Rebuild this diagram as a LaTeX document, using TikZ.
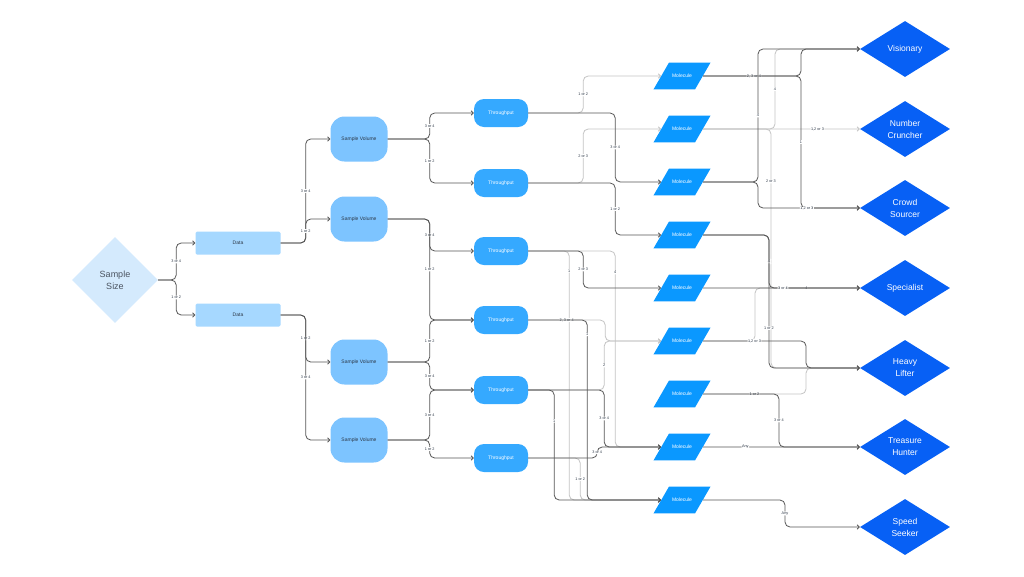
\documentclass[tikz,border=0pt]{standalone}
\usepackage{fontspec}
\setmainfont{Liberation Sans}
\usetikzlibrary{positioning}
\usetikzlibrary{arrows.meta}
\usetikzlibrary{shapes.geometric}

\definecolor{sizefill}{HTML}{D4EAFD}
\definecolor{datafill}{HTML}{A6D8FF}
\definecolor{volfill}{HTML}{7DC4FF}
\definecolor{thrfill}{HTML}{35A9FF}
\definecolor{molfill}{HTML}{0A98FF}
\definecolor{typefill}{HTML}{0760F5}
\definecolor{inktext}{HTML}{2B3645}
\definecolor{linedark}{HTML}{575757}
\definecolor{linelight}{HTML}{C4C4C4}

\begin{document}
\begin{tikzpicture}[x=1pt,y=-1pt,
  >={Straight Barb[length=2.2pt,width=4.5pt]},
  dk/.style={draw=linedark,line width=0.8pt,rounded corners=5pt,->},
  lt/.style={draw=linelight,line width=0.8pt,rounded corners=5pt,->},
  lbl/.style={fill=white,inner sep=0.5pt,text=inktext,font=\fontsize{3.8}{4}\selectfont},
  sizebox/.style={diamond,aspect=1,fill=sizefill,minimum width=86pt,minimum height=86pt,inner sep=0pt,
    text=inktext!85,align=center,font=\fontsize{9}{12}\selectfont},
  databox/.style={rectangle,rounded corners=1.5pt,fill=datafill,minimum width=85pt,minimum height=23pt,
    text=inktext,font=\fontsize{5}{6}\selectfont},
  volbox/.style={rectangle,rounded corners=14pt,fill=volfill,minimum width=57pt,minimum height=45pt,
    text=inktext,font=\fontsize{5}{6}\selectfont},
  thrbox/.style={rectangle,rounded corners=10pt,fill=thrfill,minimum width=54pt,minimum height=28pt,
    text=white,font=\fontsize{5}{6}\selectfont},
  molbox/.style={trapezium,trapezium left angle=60,trapezium right angle=120,
    fill=molfill,inner xsep=3pt,inner ysep=11.6pt,text=white,font=\fontsize{5}{6}\selectfont},
  typebox/.style={diamond,aspect=1.6,fill=typefill,minimum width=90pt,minimum height=56pt,inner sep=0pt,
    text=white,align=center,font=\fontsize{8.5}{12}\selectfont}
]
\fill[white] (0,0) rectangle (1024,576);
\useasboundingbox (0,0) rectangle (1024,576);

% left half
\node[sizebox] (size) at (115,280) {Sample\\Size};
\node[databox] (data1) at (238,243) {Data};
\node[databox] (data2) at (238,315) {Data};
\node[volbox] (vol1) at (359,139) {Sample Volume};
\node[volbox] (vol2) at (359,219) {Sample Volume};
\node[volbox] (vol3) at (359,362) {Sample Volume};
\node[volbox] (vol4) at (359,440) {Sample Volume};
\foreach \i/\y in {1/113,2/183,3/251,4/320,5/390,6/458}
  \node[thrbox] (thr\i) at (501,\y) {Throughput};

% right half
\foreach \i/\y in {1/76,2/129,3/182,4/235,5/288,6/341,7/394,8/447,9/500}
  \node[molbox] (mol\i) at (682,\y) {Molecule};
\node[typebox] (vis) at (905,49) {Visionary};
\node[typebox] (num) at (905,129) {Number\\Cruncher};
\node[typebox] (crowd) at (905,208) {Crowd\\Sourcer};
\node[typebox] (spec) at (905,288) {Specialist};
\node[typebox] (heavy) at (905,368) {Heavy\\Lifter};
\node[typebox] (hunt) at (905,447) {Treasure\\Hunter};
\node[typebox] (speed) at (905,527) {Speed\\Seeker};

\draw[dk] (size.east) -- ++(18,0) |- (data1.west) node[lbl,pos=.25] (a1) {3 or 4};
\draw[dk] (size.east) -- ++(18,0) |- (data2.west) node[lbl,pos=.25] (a2) {1 or 2};

\draw[dk] (data1.east) -- ++(25,0) |- (vol1.west) node[lbl,pos=.25] (b1) {3 or 4};
\draw[dk] (data1.east) -- ++(25,0) |- (vol2.west) node[lbl,pos=.25] (b2) {1 or 2};
\draw[dk] (data2.east) -- ++(25,0) |- (vol3.west) node[lbl,pos=.25] (b3) {1 or 2};
\draw[dk] (data2.east) -- ++(25,0) |- (vol4.west) node[lbl,pos=.25] (b4) {3 or 4};

\draw[dk] (vol1.east) -- ++(42,0) |- (thr1.west) node[lbl,pos=.25] (c1) {3 or 4};
\draw[dk] (vol1.east) -- ++(42,0) |- (thr2.west) node[lbl,pos=.25] (c2) {1 or 2};
\draw[dk] (vol2.east) -- ++(42,0) |- (thr3.west) node[lbl,pos=.25] (c3) {3 or 4};
\draw[dk] (vol2.east) -- ++(42,0) |- (thr4.west) node[lbl,pos=.25] (c4) {1 or 2};
\draw[dk] (vol3.east) -- ++(42,0) |- (thr4.west) node[lbl,pos=.25] (c5) {1 or 2};
\draw[dk] (vol3.east) -- ++(42,0) |- (thr5.west) node[lbl,pos=.25] (c6) {3 or 4};
\draw[dk] (vol4.east) -- ++(42,0) |- (thr5.west) node[lbl,pos=.25] (c7) {3 or 4};
\draw[dk] (vol4.east) -- ++(42,0) |- (thr6.west) node[lbl,pos=.25] (c8) {1 or 2};

% throughput -> molecule, light ones first
\draw[lt] (thr1.east) -- ++(55,0) |- (mol1.west) node[lbl,pos=.25] (d1) {1 or 2};
\draw[lt] (thr2.east) -- ++(55,0) |- (mol2.west) node[lbl,pos=.25] (d2) {2 or 3};
\draw[lt] (thr3.east) -- ++(41,0) |- (mol9.west) node[lbl,pos=.04] (d3) {1};
\draw[lt] (thr3.east) -- ++(87,0) |- (mol8.west) node[lbl,pos=.055] (d4) {4};
\draw[lt] (thr4.east) -- ++(77,0) node[lbl,midway] (d5) {2, 3 or 4} |- (mol6.west);
\draw[lt] (thr5.east) -- ++(76,0) |- (mol6.west) node[lbl,pos=.25] (d6) {2};
\draw[lt] (thr6.east) -- ++(52,0) |- (mol9.west) node[lbl,pos=.25] (d7) {1 or 2};
\draw[dk] (thr1.east) -- ++(87,0) |- (mol3.west) node[lbl,pos=.25] (d8) {3 or 4};
\draw[dk] (thr2.east) -- ++(87,0) |- (mol4.west) node[lbl,pos=.25] (d9) {1 or 2};
\draw[dk] (thr3.east) -- ++(55,0) |- (mol5.west) node[lbl,pos=.25] (d10) {2 or 3};
\draw[dk] (thr4.east) -- ++(59,0) |- (mol9.west) node[lbl,pos=.04] (d11) {1};
\draw[dk] (thr5.east) -- ++(26,0) |- (mol9.west) node[lbl,pos=.14] (d12) {1};
\draw[dk] (thr5.east) -- ++(76,0) |- (mol8.west) node[lbl,pos=.25] (d13) {3 or 4};
\draw[dk] (thr6.east) -- ++(69,0) |- (mol8.west) node[lbl,pos=.25] (d14) {3 or 4};

% molecule -> type
\draw[lt] (mol2.east) -- (num.west) node[lbl,pos=.73] (e1) {1,2 or 3};
\draw[lt] (mol2.east) -- ++(72,0) |- (vis.west) node[lbl,pos=.25] (e2) {4};
\draw[lt] (mol2.east) -- ++(68,0) |- (heavy.west) node[lbl,pos=.11] (e3) {2 or 3};
\draw[lt] (mol6.east) -- ++(52,0) |- (spec.west) node[lbl,pos=.745] (e4) {4};
\draw[lt] (mol7.east) -- ++(103,0) node[lbl,pos=.5] (e5) {1 or 2} |- (heavy.west);
\draw[dk] (mol1.east) -- ++(98,0) node[lbl,pos=.52] (e6) {2, 3 or 4} |- (vis.west);
\draw[dk] (mol1.east) -- ++(98,0) |- (crowd.west) node[lbl,pos=.25] (e7) {1};
\draw[dk] (mol3.east) -- ++(55,0) |- (vis.west) node[lbl,pos=.25] (e8) {4};
\draw[dk] (mol3.east) -- ++(55,0) |- (crowd.west) node[lbl,pos=.74] (e9) {1,2 or 3};
\draw[dk] (mol4.east) -- ++(66,0) |- (spec.west) node[lbl,pos=.25] (e10) {4};
\draw[dk] (mol4.east) -- ++(66,0) |- (heavy.west) node[lbl,pos=.35] (e11) {1 or 2};
\draw[dk] (mol5.east) -- (spec.west) node[lbl,pos=.51] (e12) {3 or 4};
\draw[dk] (mol6.east) -- ++(103,0) node[lbl,pos=.5] (e13) {1,2 or 3} |- (heavy.west);
\draw[dk] (mol7.east) -- ++(76,0) |- (hunt.west) node[lbl,pos=.25] (e14) {3 or 4};
\draw[dk] (mol8.east) -- (hunt.west) node[lbl,pos=.27] (e15) {Any};
\draw[dk] (mol9.east) -- ++(82,0) |- (speed.west) node[lbl,pos=.25] (e16) {Any};
\end{tikzpicture}
\end{document}
